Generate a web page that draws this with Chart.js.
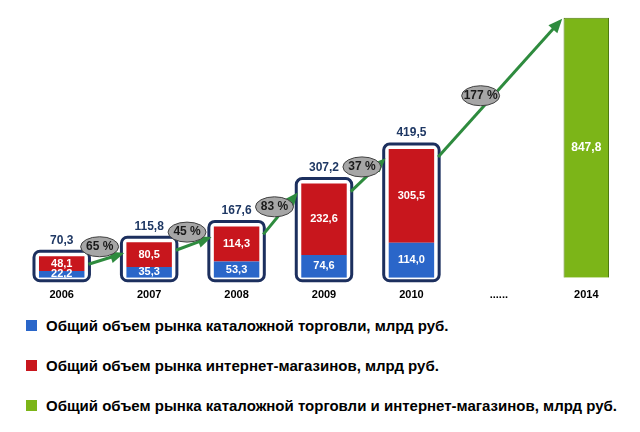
<!DOCTYPE html>
<html><head><meta charset="utf-8">
<script src="https://cdn.jsdelivr.net/npm/chart.js@4"></script>
<style>
body{margin:0;background:#fff;font-family:"Liberation Sans",Arial,sans-serif}
#wrap{position:relative;width:640px;height:305px}
.leg{font-weight:bold;font-size:15px;color:#000;margin-left:26px;display:flex;align-items:center;height:40px}
.leg span{display:inline-block;width:11px;height:11px;margin-right:9px}
</style></head><body>
<div id="wrap"><canvas id="myChart" width="640" height="305"></canvas></div>
<div class="leg"><span style="background:#2a66c9"></span>Общий объем рынка каталожной торговли, млрд руб.</div>
<div class="leg"><span style="background:#c8161d"></span>Общий объем рынка интернет-магазинов, млрд руб.</div>
<div class="leg"><span style="background:#7cb518"></span>Общий объем рынка каталожной торговли и интернет-магазинов, млрд руб.</div>
<script>
const years = ['2006','2007','2008','2009','2010','......','2014'];
const catalog = [22.2, 35.3, 53.3, 74.6, 114.0, null, null];
const internet = [48.1, 80.5, 114.3, 232.6, 305.5, null, null];
const combined = [null, null, null, null, null, null, 847.8];
const totals = ['70,3','115,8','167,6','307,2','419,5', '', ''];
const growth = ['65 %','45 %','83 %','37 %','177 %'];

const fmt = v => v.toFixed(1).replace('.', ',');

const deco = {
  id: 'deco',
  afterDatasetsDraw(chart) {
    const c = chart.ctx, m0 = chart.getDatasetMeta(0), m1 = chart.getDatasetMeta(1), m2 = chart.getDatasetMeta(2);
    c.save();
    c.textAlign = 'center'; c.textBaseline = 'middle';
    c.font = 'bold 11px "Liberation Sans", Arial';
    for (let i = 0; i < 5; i++) {
      const b0 = m0.data[i], b1 = m1.data[i];
      c.fillStyle = '#fff';
      c.fillText(fmt(catalog[i]), b0.x, (b0.y + b0.base) / 2);
      c.fillText(fmt(internet[i]), b1.x, (b1.y + b1.base) / 2);
      const w = b0.width + 10;
      c.strokeStyle = '#1c2f5e'; c.lineWidth = 3;
      c.beginPath(); c.roundRect(b0.x - w / 2, b1.y - 5, w, b0.base - b1.y + 8, 6); c.stroke();
      c.fillStyle = '#1f3864'; c.font = 'bold 12px "Liberation Sans", Arial';
      c.fillText(totals[i], b0.x, b1.y - 16);
      c.font = 'bold 11px "Liberation Sans", Arial';
    }
    const g = m2.data[6];
    c.fillStyle = '#fff'; c.font = 'bold 12px "Liberation Sans", Arial';
    c.fillText(fmt(combined[6]), g.x, (g.y + g.base) / 2);
    const pts = [];
    for (let i = 0; i < 5; i++) { const b = m1.data[i]; pts.push([b.x + b.width / 2 + 4, b.y + 8, b.x - b.width / 2 - 6]); }
    pts.push([0, g.y, g.x - g.width / 2 - 4]);
    c.strokeStyle = '#2e8b3e'; c.fillStyle = '#2e8b3e'; c.lineWidth = 3;
    for (let i = 0; i < 5; i++) {
      const x1 = pts[i][0], y1 = pts[i][1], x2 = pts[i + 1][2], y2 = (i < 4 ? m1.data[i + 1].y + 12 : g.y + 4);
      c.beginPath(); c.moveTo(x1, y1); c.lineTo(x2, y2); c.stroke();
      const a = Math.atan2(y2 - y1, x2 - x1);
      c.beginPath(); c.moveTo(x2 + 4 * Math.cos(a), y2 + 4 * Math.sin(a));
      c.lineTo(x2 - 10 * Math.cos(a) + 6 * Math.sin(a), y2 - 10 * Math.sin(a) - 6 * Math.cos(a));
      c.lineTo(x2 - 10 * Math.cos(a) - 6 * Math.sin(a), y2 - 10 * Math.sin(a) + 6 * Math.cos(a));
      c.fill();
      const mx = x1 + (x2 - x1) * 0.35, my = y1 + (y2 - y1) * 0.35 - 14;
      c.fillStyle = '#a6a6a6'; c.strokeStyle = '#404040'; c.lineWidth = 1;
      c.beginPath(); c.ellipse(mx, my, 19, 10, 0, 0, Math.PI * 2); c.fill(); c.stroke();
      c.fillStyle = '#1a1a1a'; c.font = 'bold 12px "Liberation Sans", Arial';
      c.fillText(growth[i], mx, my);
      c.strokeStyle = '#2e8b3e'; c.fillStyle = '#2e8b3e'; c.lineWidth = 3;
    }
    c.restore();
  }
};

new Chart(document.getElementById('myChart').getContext('2d'), {
  type: 'bar',
  data: {
    labels: years,
    datasets: [
      { data: catalog, backgroundColor: '#2a66c9', stack: 's' },
      { data: internet, backgroundColor: '#c8161d', stack: 's' },
      { data: combined, backgroundColor: '#7cb518', borderColor: '#4f7a10', borderWidth: 1, stack: 's' }
    ]
  },
  options: {
    responsive: false, animation: false,
    layout: { padding: { left: 18, right: 10, top: 14, bottom: 0 } },
    plugins: { legend: { display: false }, tooltip: { enabled: false } },
    datasets: { bar: { barPercentage: 0.52, categoryPercentage: 1 } },
    scales: {
      x: { grid: { display: false }, border: { display: false },
           ticks: { color: '#000', font: { weight: 'bold', size: 11 } } },
      y: { display: false, min: 0, max: 860 }
    }
  },
  plugins: [deco]
});
</script>
</body></html>
